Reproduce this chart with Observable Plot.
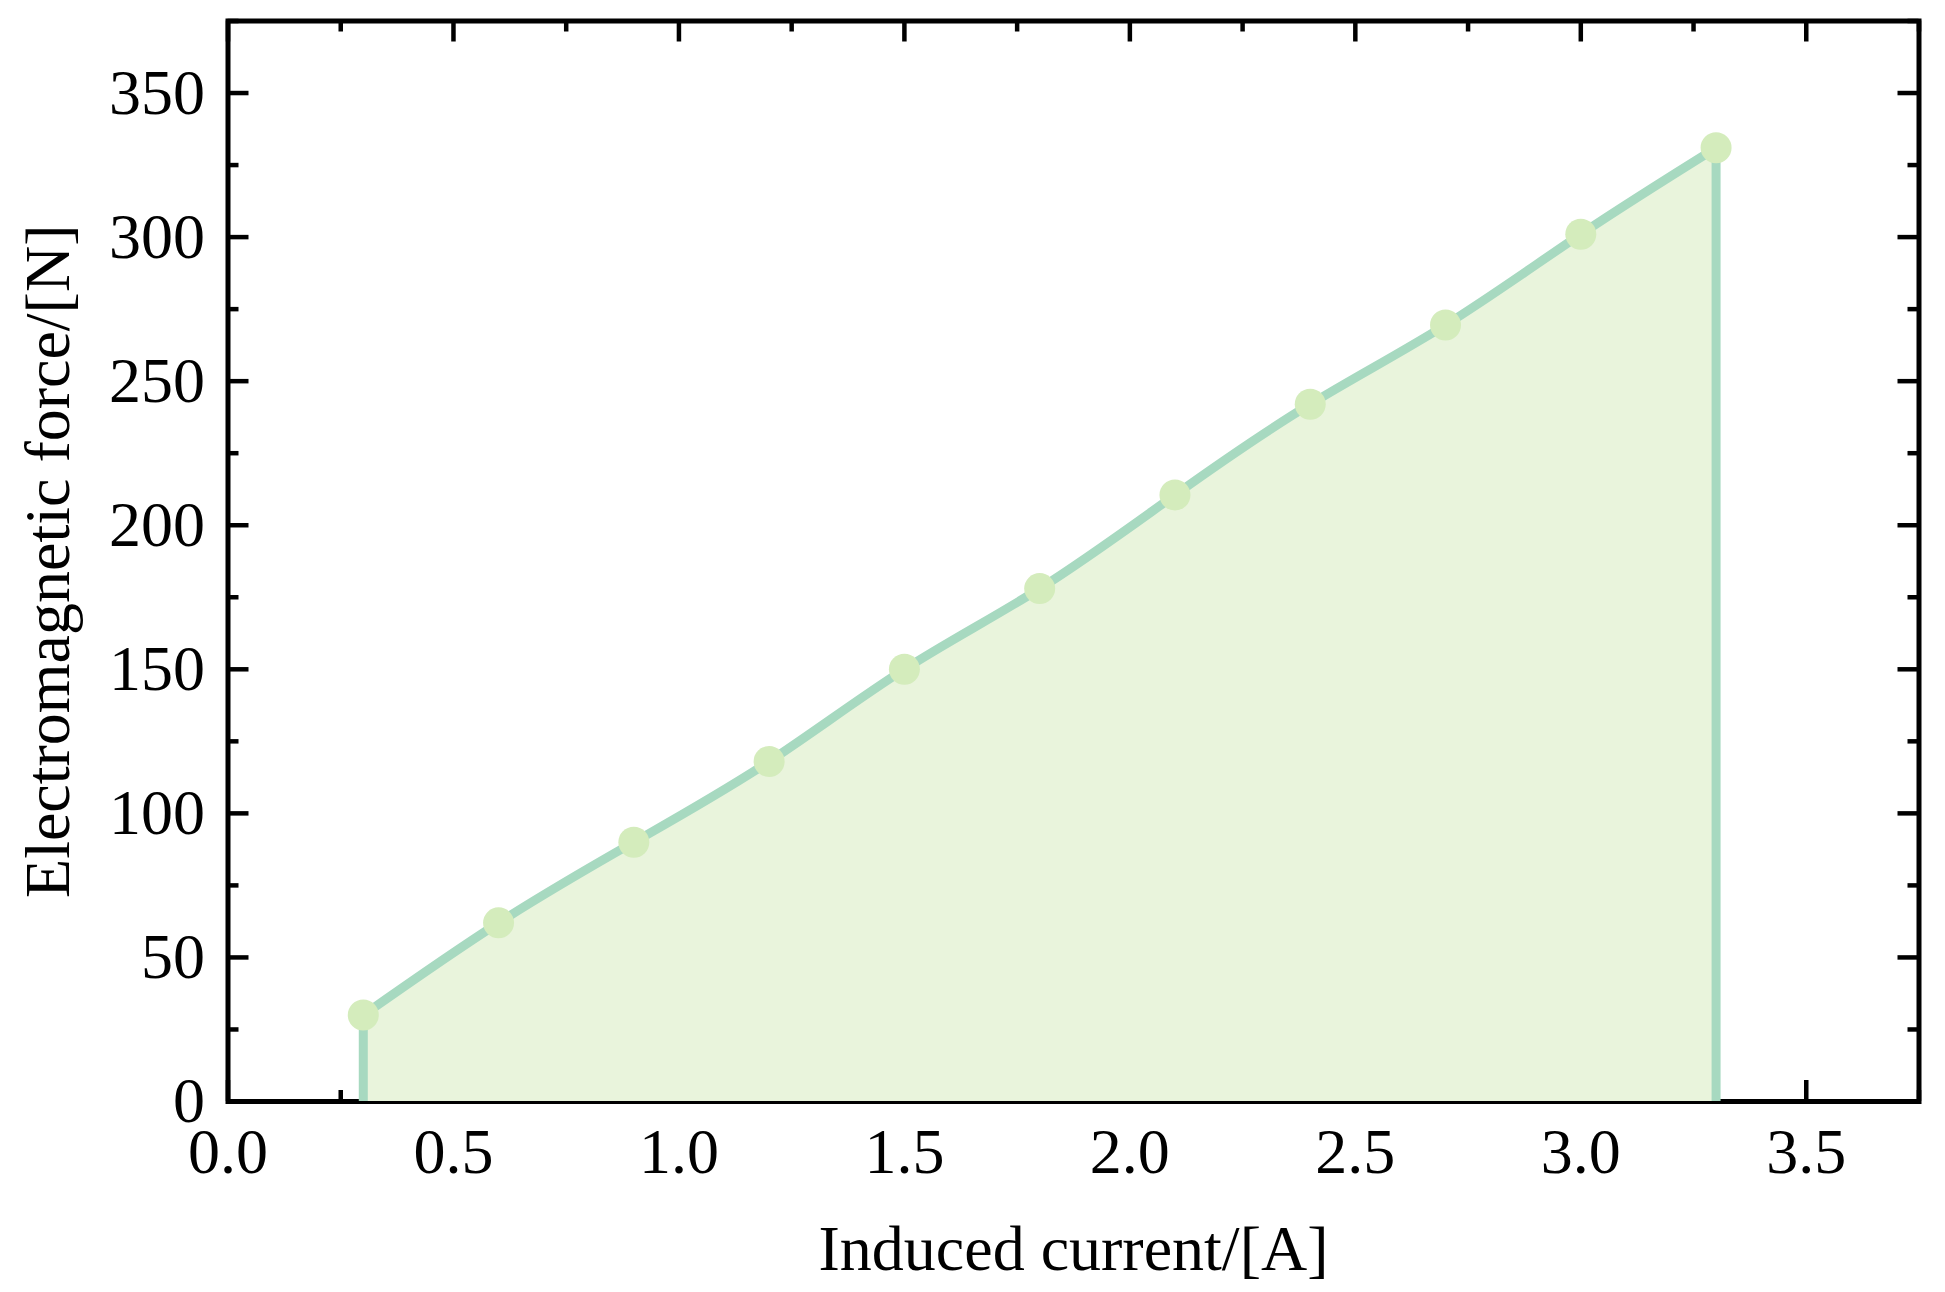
<!DOCTYPE html>
<html>
<head>
<meta charset="utf-8">
<script src="https://cdn.jsdelivr.net/npm/d3@7"></script>
<script src="https://cdn.jsdelivr.net/npm/@observablehq/plot@0.6"></script>
<style>
  html, body { margin: 0; padding: 0; background: #ffffff; }
  #chart svg { display: block; }
</style>
</head>
<body>
<div id="chart"></div>
<script>
// ---- data ----
const current = [0.3, 0.6, 0.9, 1.2, 1.5, 1.8, 2.1, 2.4, 2.7, 3.0, 3.3];
const force = [30, 62, 90, 118, 150, 178, 210.5, 242, 269.5, 301, 331];

// ---- tick values / labels ----
const xMajorTicks = [0, 0.5, 1.0, 1.5, 2.0, 2.5, 3.0, 3.5];
const xMinorTicks = [0.25, 0.75, 1.25, 1.75, 2.25, 2.75, 3.25, 3.75];
const yMajorTicks = [0, 50, 100, 150, 200, 250, 300, 350];
const yMinorTicks = [25, 75, 125, 175, 225, 275, 325, 375];
const xLabel = "Induced current/[A]";
const yLabel = "Electromagnetic force/[N]";

const data = current.map((x, i) => ({x, y: force[i]}));
const ends = [data[0], data[data.length - 1]];

// ---- layout / style ----
const W = 1945, H = 1292;
const mL = 227.5, mR = 26.5, mT = 20.5, mB = 191;
const fw = W - mL - mR, fh = H - mT - mB;
const lineColor = "#a7d9c0", dotColor = "#d4ecbc", areaColor = "#e9f4dc";
const font = "'Liberation Serif', 'Times New Roman', serif";
const majorLen = 21, minorLen = 11, tickW = 4.5;

const chart = Plot.plot({
  width: W,
  height: H,
  marginLeft: mL,
  marginRight: mR,
  marginTop: mT,
  marginBottom: mB,
  style: {fontFamily: font, background: "white", color: "black"},
  x: {domain: [0, 3.75]},
  y: {domain: [0, 375]},
  marks: [
    Plot.frame({stroke: "black", strokeWidth: 5}),
    // inward ticks: left, right, bottom, top
    Plot.tickY(yMajorTicks, {y: d => d, stroke: "black", strokeWidth: tickW, insetRight: fw - majorLen}),
    Plot.tickY(yMinorTicks, {y: d => d, stroke: "black", strokeWidth: tickW, insetRight: fw - minorLen}),
    Plot.tickY(yMajorTicks, {y: d => d, stroke: "black", strokeWidth: tickW, insetLeft: fw - majorLen}),
    Plot.tickY(yMinorTicks, {y: d => d, stroke: "black", strokeWidth: tickW, insetLeft: fw - minorLen}),
    Plot.tickX(xMajorTicks, {x: d => d, stroke: "black", strokeWidth: tickW, insetTop: fh - majorLen}),
    Plot.tickX(xMinorTicks, {x: d => d, stroke: "black", strokeWidth: tickW, insetTop: fh - minorLen}),
    Plot.tickX(xMajorTicks, {x: d => d, stroke: "black", strokeWidth: tickW, insetBottom: fh - majorLen}),
    Plot.tickX(xMinorTicks, {x: d => d, stroke: "black", strokeWidth: tickW, insetBottom: fh - minorLen}),
    // data
    Plot.areaY(data, {x: "x", y: "y", curve: "natural", fill: areaColor}),
    Plot.ruleX(ends, {x: "x", y1: 0, y2: "y", stroke: lineColor, strokeWidth: 9, strokeLinecap: "butt"}),
    Plot.line(data, {x: "x", y: "y", curve: "natural", stroke: lineColor, strokeWidth: 9}),
    Plot.dot(data, {x: "x", y: "y", r: 15.5, fill: dotColor, stroke: "none"}),
    // axes text
    Plot.axisY(yMajorTicks, {
      anchor: "left", tickSize: 0, tickPadding: 23, fontSize: 64,
      label: yLabel, labelArrow: "none", labelAnchor: "center", labelOffset: 204
    }),
    Plot.axisX(xMajorTicks, {
      anchor: "bottom", tickSize: 0, tickPadding: 26, fontSize: 64,
      tickFormat: d3.format(".1f"),
      label: xLabel, labelArrow: "none", labelAnchor: "center", labelOffset: 168
    })
  ]
});

document.getElementById("chart").appendChild(chart);
</script>
</body>
</html>
